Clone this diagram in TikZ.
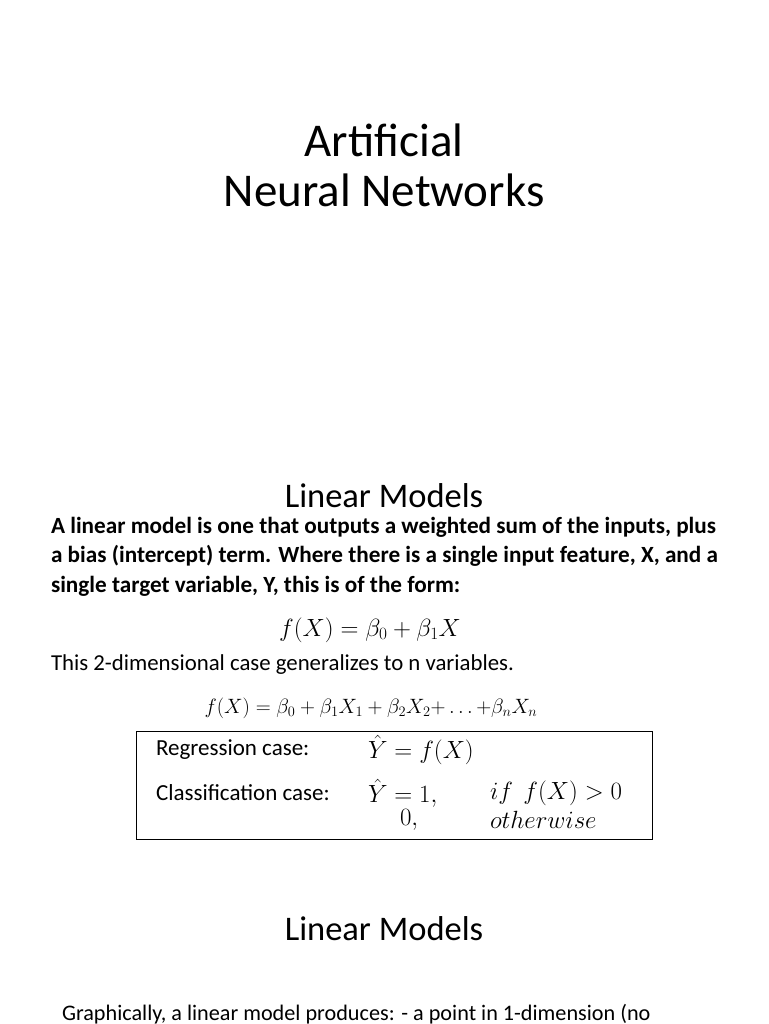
\documentclass[tikz,border=0pt]{standalone}
\usepackage{fontspec}
\setmainfont{Carlito}
\usepackage{amsmath}
\begin{document}
\begin{tikzpicture}[x=1pt,y=-1pt,
  every node/.style={inner sep=0pt,outer sep=0pt},
  title/.style={font=\fontsize{47}{50}\selectfont,align=center},
  head/.style={font=\fontsize{34.5}{38}\selectfont},
  para/.style={font=\bfseries\fontsize{23.2}{29.5}\selectfont,align=left,anchor=north west},
  body/.style={font=\fontsize{22.8}{26}\selectfont,anchor=west},
  boxt/.style={font=\fontsize{23}{26}\selectfont,anchor=west},
  mth/.style={font=\fontsize{23}{26}\selectfont}]
\useasboundingbox (0,0) rectangle (768,1024);
\node[title] (t1) at (384,140) {Artificial};
\node[title] (t2) at (384,190) {Neural Networks};
\node[head] (h1) at (384,496) {Linear Models};
\node[para] (p1) at (51,517) {A linear model is one that outputs a weighted sum of the inputs, plus\\a bias (intercept) term. Where there is a single input feature, X, and a\\single target variable, Y, this is of the form:};
\node[mth] (f1) at (370,630) {$f(X)=\beta_0+\beta_1X$};
\node[body] (b1) at (51,665) {This 2-dimensional case generalizes to n variables.};
\node[mth,font=\fontsize{20.8}{24}\selectfont] (f2) at (371,708) {$f(X)=\beta_0+\beta_1X_1+\beta_2X_2{+}\ldots{+}\beta_nX_n$};
\node[draw,line width=0.8pt,minimum width=516pt,minimum height=108pt,anchor=north west] (bx) at (136,731) {};
\node[boxt] (r1) at (156,750) {Regression case:};
\node[mth,anchor=west] (r2) at (368,750) {$\hat{Y}=f(X)$};
\node[boxt] (c1) at (156,793) {Classification case:};
\node[mth,anchor=west] (c2) at (368,793) {$\hat{Y}=1,$};
\node[mth,anchor=west] (c3) at (490,793) {$if\ \ f(X)>0$};
\node[mth,anchor=west] (c4) at (400,820) {$0,$};
\node[mth,anchor=west] (c5) at (490,820) {$otherwise$};
\node[head] (h2) at (384,929) {Linear Models};
\node[body,font=\fontsize{22.2}{26}\selectfont] (g1) at (62,1014) {Graphically, a linear model produces: - a point in 1-dimension (no};
\end{tikzpicture}
\end{document}
